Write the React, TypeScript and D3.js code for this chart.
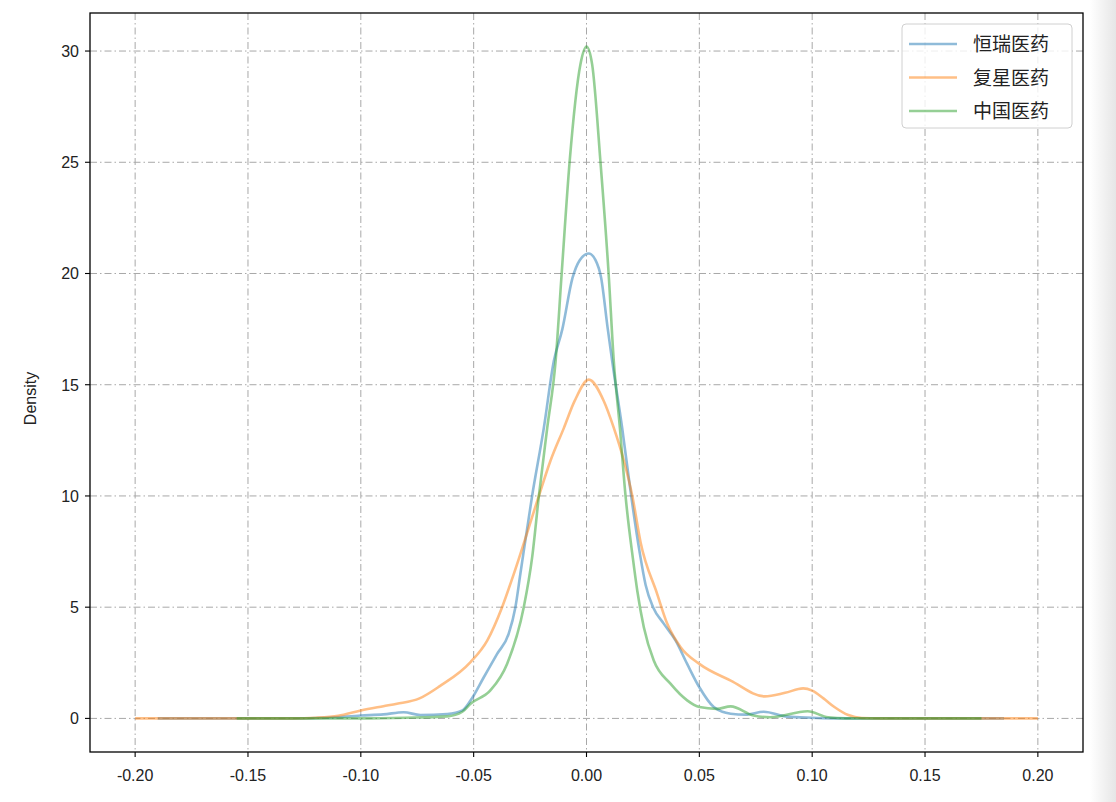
import React from "react";
import * as d3 from "d3";

const xTicks = [-0.2, -0.15, -0.1, -0.05, 0, 0.05, 0.1, 0.15, 0.2];
const yTicks = [0, 5, 10, 15, 20, 25, 30];
const seriesNames = ["恒瑞医药", "复星医药", "中国医药"];
const seriesColors = ["#1f77b4", "#ff7f0e", "#2ca02c"];

const hengrui: [number, number][] = [
  [-0.19, 0], [-0.13, 0], [-0.115, 0.03], [-0.1, 0.13], [-0.09, 0.18], [-0.081, 0.28],
  [-0.0736, 0.15], [-0.0617, 0.2], [-0.055, 0.36], [-0.0514, 0.8], [-0.0455, 1.85],
  [-0.0396, 2.9], [-0.0345, 3.8], [-0.0315, 5], [-0.0293, 6.5],
  [-0.0241, 10], [-0.0189, 13.06], [-0.0145, 16.05], [-0.0107, 17.5], [-0.0062, 19.8],
  [-0.003, 20.6], [0.001, 20.9], [0.004, 20.6], [0.0065, 19.8], [0.0093, 17.6],
  [0.0114, 16.05], [0.0158, 13.06], [0.0198, 10], [0.0235, 7.5], [0.0262, 6.0],
  [0.0295, 5], [0.0343, 4.25], [0.0395, 3.5], [0.0446, 2.45], [0.05, 1.4],
  [0.0564, 0.51], [0.0639, 0.21], [0.0705, 0.17], [0.0785, 0.3], [0.089, 0.08],
  [0.1, 0.03], [0.11, 0], [0.185, 0],
];

const fosun: [number, number][] = [
  [-0.2, 0], [-0.13, 0], [-0.12, 0.03], [-0.11, 0.12], [-0.1, 0.36], [-0.09, 0.55],
  [-0.084, 0.66], [-0.074, 0.9], [-0.065, 1.45], [-0.0514, 2.53], [-0.044, 3.5],
  [-0.0374, 5], [-0.0322, 6.5], [-0.0211, 10], [-0.016, 11.57], [-0.01, 13.06],
  [-0.0053, 14.26], [0.001, 15.23], [0.0077, 14.26], [0.0121, 13.06], [0.0166, 11.57],
  [0.0203, 10], [0.024, 7.9], [0.0313, 5.6], [0.0358, 4.25], [0.0417, 3.2], [0.05, 2.45],
  [0.0639, 1.7], [0.079, 0.99], [0.088, 1.15], [0.096, 1.35], [0.1, 1.25],
  [0.105, 0.9], [0.11, 0.5], [0.116, 0.15], [0.122, 0.02], [0.13, 0], [0.2, 0],
];

const sinopharm: [number, number][] = [
  [-0.155, 0], [-0.1, 0], [-0.08, 0.03], [-0.0617, 0.09], [-0.055, 0.3], [-0.0514, 0.66],
  [-0.0426, 1.26], [-0.0352, 2.45], [-0.0278, 5], [-0.0241, 7.23], [-0.0211, 10],
  [-0.0174, 13.06], [-0.0137, 16.05], [-0.011, 20], [-0.0075, 25], [-0.0027, 29.4],
  [0, 30.2], [0.0025, 29.4], [0.0062, 25], [0.0098, 20], [0.0121, 16.05], [0.0148, 13.06],
  [0.0173, 10], [0.0207, 7.08], [0.0225, 5.74], [0.0254, 4.1], [0.0298, 2.6],
  [0.0372, 1.56], [0.0446, 0.81], [0.05, 0.51], [0.0577, 0.43], [0.0639, 0.54],
  [0.074, 0.13], [0.0815, 0.05], [0.098, 0.32], [0.107, 0.05], [0.115, 0], [0.175, 0],
];

const allSeries = [hengrui, fosun, sinopharm];

export default function App() {
  const W = 1116, H = 802;
  const L = 90, R = 1083, T = 13, B = 752;
  const x = d3.scaleLinear().domain([-0.22, 0.22]).range([L, R]);
  const y = d3.scaleLinear().domain([-1.51, 31.71]).range([B, T]);
  const line = d3
    .line<[number, number]>()
    .x((d) => x(d[0]))
    .y((d) => y(d[1]))
    .curve(d3.curveMonotoneX);
  const font = "'Liberation Sans', 'DejaVu Sans', sans-serif";
  const cjk = "'Noto Sans CJK SC', sans-serif";
  const gridStyle = { stroke: "#a8a8a8", strokeWidth: 1, strokeDasharray: "7,3,1.5,3" };
  const fmtX = (v: number) => v.toFixed(2);

  return (
    <svg width={W} height={H} style={{ position: "fixed", left: 0, top: 0 }}>
      <defs>
        <linearGradient id="shade" x1="0" x2="1" y1="0" y2="0">
          <stop offset="0" stopColor="#ffffff" />
          <stop offset="1" stopColor="#e6e6e6" />
        </linearGradient>
        <clipPath id="plot">
          <rect x={L} y={T} width={R - L} height={B - T} />
        </clipPath>
      </defs>
      <rect x={0} y={0} width={W} height={H} fill="#fff" />
      <rect x={1090} y={0} width={26} height={H} fill="url(#shade)" />
      {xTicks.map((t) => (
        <line key={"gx" + t} x1={x(t)} x2={x(t)} y1={T} y2={B} style={gridStyle} />
      ))}
      {yTicks.map((t) => (
        <line key={"gy" + t} x1={L} x2={R} y1={y(t)} y2={y(t)} style={gridStyle} />
      ))}
      <g clipPath="url(#plot)">
        {allSeries.map((s, i) => (
          <path
            key={i}
            d={line(s) || ""}
            fill="none"
            stroke={seriesColors[i]}
            strokeOpacity={0.5}
            strokeWidth={2.6}
            strokeLinejoin="round"
          />
        ))}
      </g>
      <rect x={L} y={T} width={R - L} height={B - T} fill="none" stroke="#000" strokeWidth={1.3} />
      {xTicks.map((t) => (
        <g key={"xt" + t}>
          <line x1={x(t)} x2={x(t)} y1={B} y2={B + 5} stroke="#000" strokeWidth={1.1} />
          <text x={x(t)} y={B + 29} textAnchor="middle" fontFamily={font} fontSize={16} fill="#222">
            {fmtX(t)}
          </text>
        </g>
      ))}
      {yTicks.map((t) => (
        <g key={"yt" + t}>
          <line x1={L - 5} x2={L} y1={y(t)} y2={y(t)} stroke="#000" strokeWidth={1.1} />
          <text x={L - 11} y={y(t) + 6} textAnchor="end" fontFamily={font} fontSize={16} fill="#222">
            {t}
          </text>
        </g>
      ))}
      <text
        transform={`translate(36, ${(T + B) / 2 + 16}) rotate(-90)`}
        textAnchor="middle"
        fontFamily={font}
        fontSize={16}
        fill="#222"
      >
        Density
      </text>
      <rect x={902} y={24} width={170} height={104} rx={4} fill="#fff" fillOpacity={0.8} stroke="#d0d0d0" strokeWidth={1} />
      {seriesNames.map((n, i) => (
        <g key={n}>
          <line
            x1={909}
            x2={957}
            y1={44 + i * 33.5}
            y2={44 + i * 33.5}
            stroke={seriesColors[i]}
            strokeOpacity={0.5}
            strokeWidth={2.6}
          />
          <text x={973} y={44 + i * 33.5 + 7} fontFamily={cjk} fontSize={19} fill="#222">
            {n}
          </text>
        </g>
      ))}
    </svg>
  );
}
